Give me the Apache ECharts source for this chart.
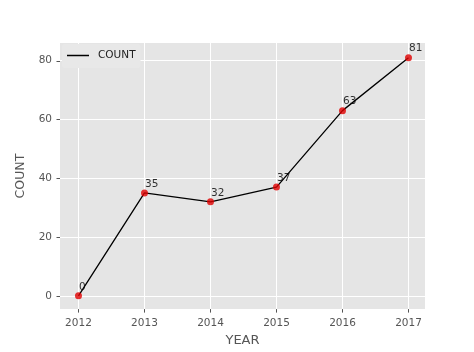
<!DOCTYPE html>
<html><head><meta charset="utf-8">
<script src="https://cdn.jsdelivr.net/npm/echarts@6/dist/echarts.min.js"></script>
<style>html,body{margin:0;padding:0;background:#fff}#c{width:474px;height:352px}</style>
</head><body><div id="c"></div>
<script>
const years = [2012, 2013, 2014, 2015, 2016, 2017];
const counts = [0, 35, 32, 37, 63, 81];
const yTicks = [0, 20, 40, 60, 80];
const seriesName = 'COUNT';

const FONT = 'DejaVu Sans';
const X_MIN = 2011.72, X_MAX = 2017.25, X_STEP = 0.04;
const Y_MIN = -4.5, Y_MAX = 86, Y_STEP = 0.5;
const pts = years.map((y, i) => [y, counts[i]]);

// split line colour cycles so only the real tick positions get a white line
const xColors = [];
for (let i = 0; i < 25; i++) xColors.push(i === 7 ? '#ffffff' : 'rgba(0,0,0,0)');
const yColors = [];
for (let i = 0; i < 40; i++) yColors.push(i === 9 ? '#ffffff' : 'rgba(0,0,0,0)');

const near = v => Math.abs(v - Math.round(v)) < 1e-6;
const tickData = years.map(y => ['x', y]).concat(yTicks.map(v => ['y', v]));

const chart = echarts.init(document.getElementById('c'), null, {renderer: 'canvas'});
chart.setOption({
  animation: false,
  textStyle: {fontFamily: FONT},
  grid: {left: 60, right: 49, top: 43, bottom: 40, show: true, backgroundColor: '#e5e5e5', borderWidth: 0},
  legend: {
    show: true, left: 62, top: 44, orient: 'vertical',
    data: [{name: seriesName, icon: 'rect'}],
    itemWidth: 22, itemHeight: 1.5, itemGap: 4,
    padding: [6, 5, 7, 5],
    backgroundColor: '#e8e8e8', borderWidth: 0, borderRadius: 3,
    textStyle: {fontFamily: FONT, fontSize: 10.5, color: '#222', padding: [0, 0, 0, 4]}
  },
  xAxis: {
    type: 'value', min: X_MIN, max: X_MAX, interval: X_STEP,
    name: 'YEAR', nameLocation: 'middle', nameGap: 24,
    nameTextStyle: {fontFamily: FONT, fontSize: 13, color: '#555'},
    axisLine: {show: false}, axisTick: {show: false},
    axisLabel: {
      fontFamily: FONT, fontSize: 10.5, color: '#555', margin: 9,
      showMinLabel: true, showMaxLabel: true,
      formatter: v => (near(v) && years.indexOf(Math.round(v)) >= 0) ? String(Math.round(v)) : ''
    },
    splitLine: {show: true, lineStyle: {color: xColors, width: 1}}
  },
  yAxis: {
    type: 'value', min: Y_MIN, max: Y_MAX, interval: Y_STEP,
    name: 'COUNT', nameLocation: 'middle', nameGap: 29, nameRotate: 90,
    nameTextStyle: {fontFamily: FONT, fontSize: 12.5, color: '#555'},
    axisLine: {show: false}, axisTick: {show: false},
    axisLabel: {
      fontFamily: FONT, fontSize: 10.5, color: '#555', margin: 8,
      formatter: v => (near(v) && yTicks.indexOf(Math.round(v)) >= 0) ? String(Math.round(v)) : ''
    },
    splitLine: {show: true, lineStyle: {color: yColors, width: 1}}
  },
  series: [
    {
      name: 'ticks', type: 'custom', data: tickData, clip: false, silent: true, z: 1,
      encode: {x: -1, y: -1},
      renderItem: (params, api) => {
        const kind = tickData[params.dataIndex][0];
        const v = tickData[params.dataIndex][1];
        if (kind === 'x') {
          const p = api.coord([v, Y_MIN]);
          return {type: 'line', shape: {x1: Math.round(p[0]) + 0.5, y1: p[1], x2: Math.round(p[0]) + 0.5, y2: p[1] + 3.5},
                  style: {stroke: '#555', lineWidth: 1}};
        }
        const p = api.coord([X_MIN, v]);
        return {type: 'line', shape: {x1: p[0] - 3.5, y1: Math.round(p[1]) + 0.5, x2: p[0], y2: Math.round(p[1]) + 0.5},
                style: {stroke: '#555', lineWidth: 1}};
      }
    },
    {
      name: seriesName, type: 'line', data: pts, showSymbol: false, symbol: 'none',
      lineStyle: {color: '#000', width: 1.3}, itemStyle: {color: '#000'}, z: 2
    },
    {
      name: 'pts', type: 'scatter', data: pts, symbol: 'circle', symbolSize: 7,
      itemStyle: {color: '#e00000'}, z: 3,
      label: {
        show: true, position: [4, 0], align: 'left', verticalAlign: 'bottom',
        fontFamily: FONT, fontSize: 10.5, color: '#000',
        formatter: p => String(p.value[1])
      }
    }
  ]
});
</script></body></html>
